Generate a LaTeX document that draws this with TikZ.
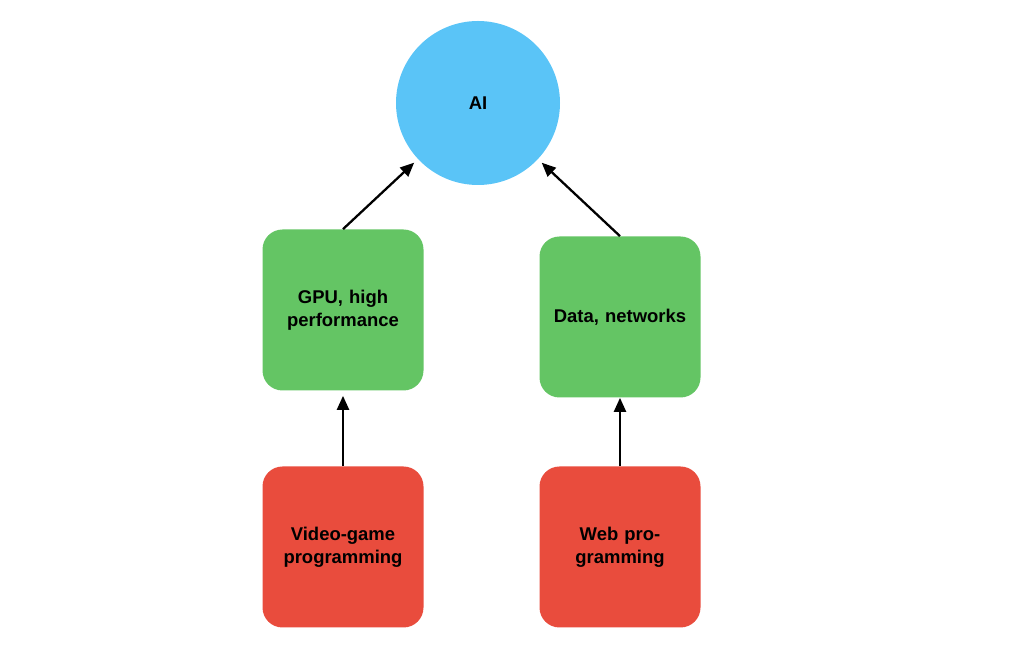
\documentclass[tikz,border=0pt]{standalone}
\usepackage{fontspec}
\setmainfont{Liberation Sans}
\usetikzlibrary{positioning, arrows.meta}
\definecolor{aiblue}{RGB}{90, 196, 247}
\definecolor{skillgreen}{RGB}{100, 197, 100}
\definecolor{fieldred}{RGB}{233, 76, 61}
\tikzset{
  box/.style={rectangle, rounded corners=0.4cm, minimum width=3.22cm, minimum height=3.22cm, text width=2.9cm, align=center, font=\fontsize{10.5}{13}\selectfont\bfseries},
  arrow/.style={line width=1.3pt, -{Triangle[length=0.28cm, width=0.24cm]}}
}
\begin{document}
\begin{tikzpicture}
\useasboundingbox (0,0) rectangle (20.48,13.42);

% Goal
\node (ai) [circle, fill=aiblue, minimum size=3.28cm, font=\fontsize{10.5}{13}\selectfont\bfseries] at (9.56,11.36) {AI};

% Intermediate skills
\node (gpu) [box, fill=skillgreen] at (6.86,7.22) {GPU, high performance};
\node (data) [box, fill=skillgreen] at (12.4,7.08) {Data, networks};

% Starting points
\node (game) [box, fill=fieldred] at (6.86,2.48) {Video-game programming};
\node (web) [box, fill=fieldred] at (12.4,2.48) {Web programming};

% Paths
\draw [arrow, shorten >=0.1cm] (gpu.north) -- (ai);
\draw [arrow, shorten >=0.1cm] (data.north) -- (ai);
\draw [arrow, shorten >=0.1cm] (game) -- (gpu);
\draw [arrow, shorten >=0.0cm] (web) -- (data);

\end{tikzpicture}
\end{document}
